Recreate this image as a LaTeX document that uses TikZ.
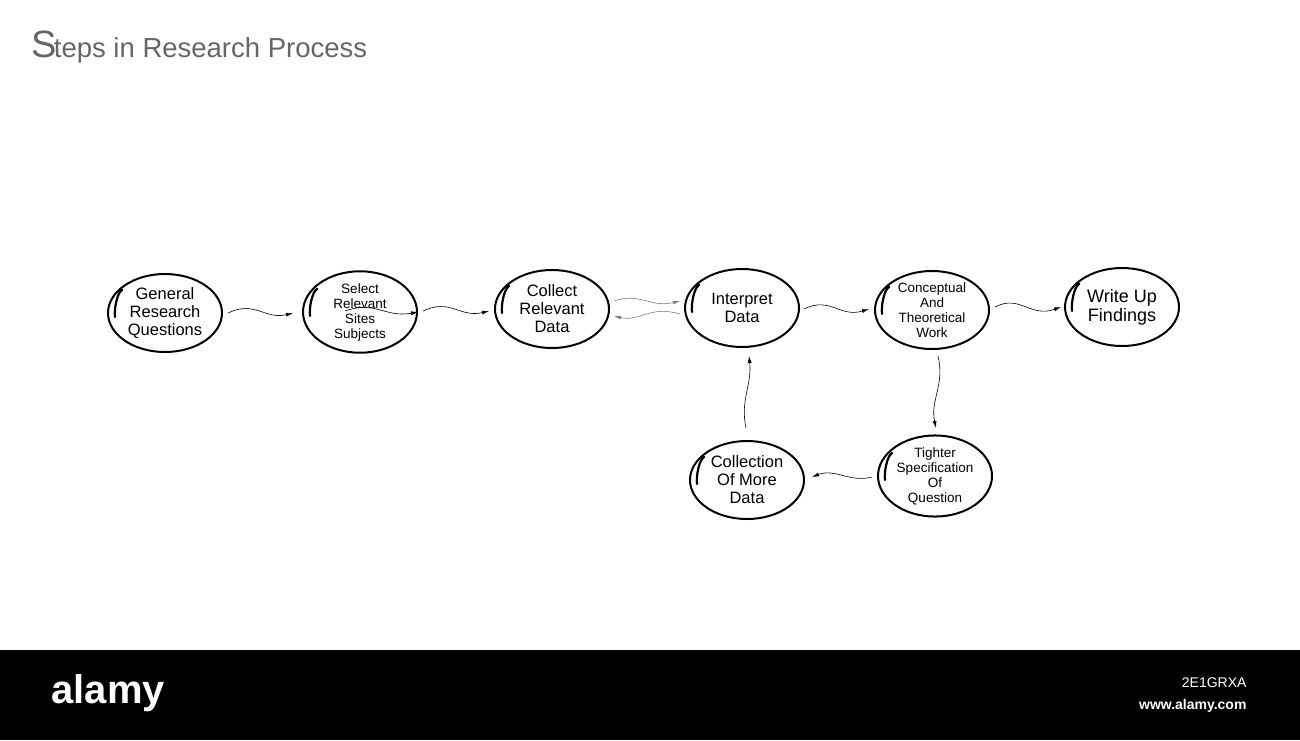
\documentclass[tikz,border=0pt]{standalone}
\usepackage{fontspec}
\setmainfont{Liberation Sans}
\usetikzlibrary{shapes.geometric,arrows.meta}
\begin{document}
\begin{tikzpicture}[x=1pt,y=-1pt,
  bub/.style={ellipse,draw,line width=2pt,minimum width=114pt,minimum height=78pt,inner sep=0pt,align=center,font=\fontsize{16.5}{18}\selectfont},
  sbub/.style={bub,font=\fontsize{13.5}{15}\selectfont},
  wav/.style={-{Latex[length=7pt,width=4pt]},line width=0.6pt}]
\useasboundingbox (0,0) rectangle (1300,740);
\fill[white] (0,0) rectangle (1300,650);
\fill[black] (0,650) rectangle (1300,740);
\node[anchor=west,text=gray!80!black,font=\fontsize{27.5}{29}\selectfont] (title) at (28,47) {{\fontsize{38}{38}\selectfont S}\hspace{-3pt}teps in Research Process};
\node[bub] (a) at (165,313) {General\\Research\\Questions};
\node[sbub] (b) at (360,312) {Select\\Relevant\\Sites\\Subjects};
\node[bub] (c) at (552,309) {Collect\\Relevant\\Data};
\node[bub] (d) at (742,308) {Interpret\\Data};
\node[sbub] (e) at (932,310) {Conceptual\\And\\Theoretical\\Work};
\node[bub,font=\fontsize{18}{19}\selectfont] (f) at (1122,307) {Write Up\\Findings};
\node[bub] (g) at (747,480) {Collection\\Of More\\Data};
\node[sbub] (h) at (935,476) {Tighter\\Specification\\Of\\Question};
\foreach \n in {a,b,c,d,e,f,g,h}{
  \draw[line width=2.2pt,line cap=round] ([xshift=-43pt,yshift=23pt]\n.center) .. controls +(-5,3) and +(-1,-8) .. ([xshift=-50pt,yshift=-4pt]\n.center);
}
\coordinate (a1) at (228,313); \coordinate (a2) at (293,313);
\draw[wav] (a1) .. controls (255,300) and (265,320) .. (a2);
\coordinate (b1) at (423,311); \coordinate (b2) at (489,311);
\draw[wav] (b1) .. controls (450,298) and (460,318) .. (b2);
\draw[wav] (345,311) .. controls (375,300) and (385,318) .. (b.east);
\coordinate (c1) at (614,301); \coordinate (c2) at (680,301);
\draw[wav,gray] (c1) .. controls (640,292) and (650,308) .. (c2);
\coordinate (c3) at (680,314); \coordinate (c4) at (614,316);
\draw[wav,gray] (c3) .. controls (650,305) and (640,322) .. (c4);
\coordinate (d1) at (804,309); \coordinate (d2) at (869,309);
\draw[wav] (d1) .. controls (830,296) and (840,318) .. (d2);
\coordinate (e1) at (995,307); \coordinate (e2) at (1061,307);
\draw[wav] (e1) .. controls (1020,294) and (1030,318) .. (e2);
\coordinate (e3) at (938,356); \coordinate (e4) at (936,428);
\draw[wav] (e3) .. controls (945,385) and (930,400) .. (e4);
\coordinate (h1) at (872,477); \coordinate (h2) at (812,477);
\draw[wav] (h1) .. controls (850,483) and (835,468) .. (h2);
\coordinate (g1) at (746,428); \coordinate (g2) at (749,356);
\draw[wav] (g1) .. controls (740,400) and (752,385) .. (g2);
\node[white,font=\bfseries\fontsize{40}{40}\selectfont,anchor=west] (logo) at (48,693) {alamy};
\node[white,font=\fontsize{14}{14}\selectfont,anchor=east] (id) at (1250,683) {2E1GRXA};
\node[white,font=\bfseries\fontsize{14}{14}\selectfont,anchor=east] (url) at (1250,706) {www.alamy.com};
\end{tikzpicture}
\end{document}
